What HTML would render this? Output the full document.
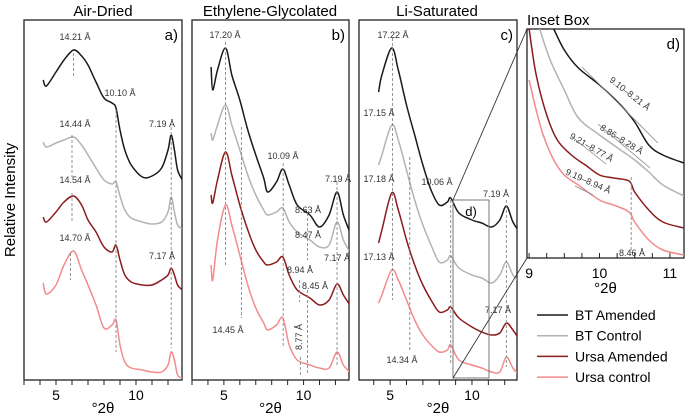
<!DOCTYPE html>
<html><head><meta charset="utf-8">
<style>
body{margin:0;background:#fff;}
svg{display:block;font-family:"Liberation Sans",Arial,sans-serif;}
.lbl{font-size:9px;fill:#333;}
</style></head>
<body>
<svg id="chart" width="685" height="419" viewBox="0 0 685 419" xmlns="http://www.w3.org/2000/svg">
<g id="static">
<text x="103" y="16" font-size="15" text-anchor="middle">Air-Dried</text>
<text x="270" y="16" font-size="15" text-anchor="middle">Ethylene-Glycolated</text>
<text x="437" y="16" font-size="15" text-anchor="middle">Li-Saturated</text>
<text x="527" y="25" font-size="15">Inset Box</text>
<text transform="translate(15,200) rotate(-90)" font-size="15" text-anchor="middle">Relative Intensity</text>
</g>
<g id="panels"></g>
<g id="legend"></g>
</svg>
<script>
// ---------- data ----------
const colors = ["#1a1a1a","#b3b3b3","#8b1c1c","#f28b8b"];
const seriesNames = ["BT Amended","BT Control","Ursa Amended","Ursa control"];

const aX = [4.2,4.4,5,5.5,6.1,6.6,7,7.5,8,8.5,8.75,9,9.3,9.7,10.4,11,11.6,12,12.2,12.4,12.6,12.9];
const aBTAm = [320,314,328,340,350,344,335,318,302,297,292,270,250,235,223,224,232,250,265,250,230,220];
const aBTCo = [258,253,257,260,263,255,245,232,220,216,218,204,190,182,178,176,178,188,203,188,175,171];
const aURAm = [183,178,188,198,204,195,180,168,153,148,155,140,125,118,115,115,120,125,132,125,115,110];
const aURCo = [117,106,115,135,149,130,115,95,72,75,80,55,38,32,30,28,28,35,48,40,25,22];

const bX = [4.2,4.3,4.6,5.1,5.5,6,6.5,7,7.5,7.75,8.3,8.7,9.1,9.6,10.4,11,11.6,12.1,12.5,12.9];
const bBTAm = [333,310,330,352,325,300,270,245,222,208,218,231,215,195,185,173,185,208,185,168];
const bBTCo = [267,260,275,295,275,250,225,205,190,185,188,192,178,168,160,153,155,178,160,148];
const bURAm = [205,197,220,248,225,195,170,150,138,135,138,143,125,110,102,95,100,116,105,95];
const bURCo = [135,120,160,195,175,145,115,92,77,70,75,82,55,40,35,32,32,48,35,28];

const cX = [4.3,4.5,5.1,5.5,6,6.5,7,7.5,8,8.5,8.7,9.2,10,10.6,11.2,11.7,12.1,12.5,12.9];
const cBTAm = [308,325,352,330,295,265,235,210,195,198,202,187,180,177,173,180,194,178,168];
const cBTCo = [235,245,275,260,230,200,175,155,138,140,144,132,125,122,117,125,138,125,118];
const cURAm = [157,170,207,190,160,135,115,100,88,90,93,82,73,68,65,67,77,70,60];
const cURCo = [97,105,130,120,100,80,65,55,48,50,55,40,35,32,28,28,43,32,25];

const dBTAmX = [9.35,9.5,9.7,10,10.3,10.5,10.7,10.9,11.2];
const dBTAm = [271,250,232,215,195,178,155,145,137];
const dBTCoX = [9.15,9.3,9.5,9.7,10,10.3,10.5,10.7,10.9,11.2];
const dBTCo = [271,240,210,182,165,150,140,128,115,104];
const dURAmX = [9.0,9.1,9.25,9.4,9.6,9.8,10,10.2,10.42,10.5,10.7,10.9,11.2];
const dURAm = [271,225,185,160,145,135,125,122,119,108,90,78,72];
const dURCoX = [9.0,9.1,9.2,9.35,9.5,9.7,10,10.2,10.42,10.5,10.7,10.9,11.2];
const dURCo = [220,190,165,140,125,115,100,95,88,78,60,50,45];

const mainTicks = [3,4,5,6,7,8,9,10,11,12];
const mainTickLabels = [5,10];
const insetTicks = [9,9.25,9.5,9.75,10,10.25,10.5,10.75,11];
const insetTickLabels = [9,10,11];

// ---------- helpers ----------
const NS="http://www.w3.org/2000/svg";
function el(tag,attrs,parent,txt){const e=document.createElementNS(NS,tag);for(const k in attrs)e.setAttribute(k,attrs[k]);if(txt!==undefined)e.textContent=txt;parent.appendChild(e);return e;}
function smoothPath(pts){let d="M"+pts[0][0].toFixed(1)+","+pts[0][1].toFixed(1);for(let i=0;i<pts.length-1;i++){const p0=pts[Math.max(0,i-1)],p1=pts[i],p2=pts[i+1],p3=pts[Math.min(pts.length-1,i+2)];const c1=[p1[0]+(p2[0]-p0[0])/6,p1[1]+(p2[1]-p0[1])/6],c2=[p2[0]-(p3[0]-p1[0])/6,p2[1]-(p3[1]-p1[1])/6];d+="C"+c1[0].toFixed(1)+","+c1[1].toFixed(1)+" "+c2[0].toFixed(1)+","+c2[1].toFixed(1)+" "+p2[0].toFixed(1)+","+p2[1].toFixed(1);}return d;}
const root=document.getElementById("panels");

function panel(id,x0,x1,d0,d1,yTop,yBot,yZero,seriesX,series,ticks,tickLabels,tickDir,xLabelY){
  const g=el("g",{},root);
  
  
  const xs=v=>x0+(v-d0)/(d1-d0)*(x1-x0);
  const ys=v=>yZero-v;
  const clip=el("clipPath",{id:"clip-"+id},g);el("rect",{x:x0,y:yTop,width:x1-x0,height:yBot-yTop},clip);
  const fr=el("rect",{x:x0,y:yTop,width:x1-x0,height:yBot-yTop,fill:"none",stroke:"#222","stroke-width":1.3},g);
  
  
  ticks.forEach(t=>{const x=xs(t);const tk=el("line",{x1:x,x2:x,y1:yBot,y2:yBot+tickDir*5,stroke:"#222","stroke-width":1},g);
    
    });
  tickLabels.forEach(t=>{const tl=el("text",{x:xs(t),y:yBot+20,"font-size":14,"text-anchor":"middle"},g,String(t));
    
    });
  const xt=el("text",{x:(x0+x1)/2,y:xLabelY,"font-size":15,"text-anchor":"middle"},g,"°2θ");
  
  
  series.forEach((s,i)=>{const X=Array.isArray(seriesX[0])?seriesX[i]:seriesX;const pts=X.map((v,j)=>[xs(v),ys(s[j])]);
    const p=el("path",{d:smoothPath(pts),fill:"none",stroke:colors[i],"stroke-width":1.5,"clip-path":"url(#clip-"+id+")"},g);
    
    });
  return {g,xs};
}
function dash(g,x,y1,y2){const l=el("line",{x1:x,x2:x,y1:y1,y2:y2,stroke:"#888","stroke-width":0.9,"stroke-dasharray":"3,2"},g);
  
  }
function lab(g,x,y,t,anchor,rot){const a={x:x,y:y,class:"lbl","text-anchor":anchor||"middle"};if(rot)a.transform="rotate("+rot+" "+x+" "+y+")";const e=el("text",a,g,t);
  
  }

// panel a
const A=panel("panel-a-air-dried",24,182,3,12.875,20,380,400,aX,[aBTAm,aBTCo,aURAm,aURCo],mainTicks,mainTickLabels,1,413);
dash(A.g,A.xs(6.1),53,78);dash(A.g,A.xs(6.0),135,177);dash(A.g,A.xs(6.0),193,222);dash(A.g,A.xs(5.9),253,280);
dash(A.g,A.xs(8.75),110,352);dash(A.g,A.xs(12.2),127,348);
lab(A.g,75,40,"14.21 Å");lab(A.g,120,96,"10.10 Å");lab(A.g,75,127,"14.44 Å");lab(A.g,162,127,"7.19 Å");lab(A.g,75,183,"14.54 Å");lab(A.g,75,241,"14.70 Å");lab(A.g,162,259,"7.17 Å");
el("text",{x:178,y:40,"font-size":15,"text-anchor":"end"},A.g,"a)");
// panel b
const B=panel("panel-b-ethylene-glycolated",192,349,3,12.85,20,380,400,bX,[bBTAm,bBTCo,bURAm,bURCo],mainTicks,mainTickLabels,1,413);
dash(B.g,B.xs(5.1),42,265);dash(B.g,B.xs(6.1),127,318);dash(B.g,B.xs(8.72),163,347);dash(B.g,B.xs(10.25),213,260);
dash(B.g,B.xs(10.25),290,373);dash(B.g,B.xs(9.75),280,302);dash(B.g,B.xs(9.8),357,375);dash(B.g,B.xs(12.1),182,367);
lab(B.g,225,38,"17.20 Å");lab(B.g,283,159,"10.09 Å");lab(B.g,338,182,"7.19 Å");lab(B.g,308,213,"8.63 Å");lab(B.g,308,238,"8.47 Å");
lab(B.g,337,261,"7.17 Å");lab(B.g,300,273,"8.94 Å");lab(B.g,315,289,"8.45 Å");lab(B.g,228,333,"14.45 Å");lab(B.g,302,350,"8.77 Å","start",-90);
el("text",{x:345,y:40,"font-size":15,"text-anchor":"end"},B.g,"b)");
// panel c
const C=panel("panel-c-li-saturated",359,517,3.1,12.75,20,380,400,cX,[cBTAm,cBTCo,cURAm,cURCo],mainTicks.filter(t=>t>=4),mainTickLabels,1,413);
dash(C.g,C.xs(5.15),38,300);dash(C.g,C.xs(6.2),157,350);dash(C.g,C.xs(8.7),200,365);dash(C.g,C.xs(12.1),200,367);
lab(C.g,393,38,"17.22 Å");lab(C.g,379,116,"17.15 Å");lab(C.g,379,182,"17.18 Å");lab(C.g,437,185,"10.06 Å");lab(C.g,496,197,"7.19 Å");
lab(C.g,379,260,"17.13 Å");lab(C.g,498,313,"7.17 Å");lab(C.g,402,363,"14.34 Å");
el("text",{x:513,y:40,"font-size":15,"text-anchor":"end"},C.g,"c)");
const box=el("rect",{x:453,y:200,width:36,height:178,fill:"none",stroke:"#777","stroke-width":1},C.g);


el("text",{x:471,y:216,"font-size":13,"text-anchor":"middle"},C.g,"d)");
el("line",{x1:453,y1:200,x2:527,y2:29,stroke:"#333","stroke-width":0.9},root);
el("line",{x1:453,y1:378,x2:527,y2:258,stroke:"#333","stroke-width":0.9},root);
// inset
const D=panel("panel-d-inset",527,684,8.97,11.2,29,258,300,[dBTAmX,dBTCoX,dURAmX,dURCoX],[dBTAm,dBTCo,dURAm,dURCo],insetTicks,insetTickLabels,-1,293);
dash(D.g,D.xs(10.45),177,253);lab(D.g,632,256,"8.46 Å");
el("text",{x:680,y:49,"font-size":15,"text-anchor":"end"},D.g,"d)");
lab(D.g,628,96,"9.10–8.21 Å","middle",38);lab(D.g,620,142,"8.86–8.28 Å","middle",32);
lab(D.g,590,150,"9.21–8.77 Å","middle",30);lab(D.g,587,184,"9.19–8.94 Å","middle",24);
[[582,67,658,143],[598,124,650,168],[571,136,606,164],[575,186,593,195]].forEach(b=>{const br=el("line",{x1:b[0],y1:b[1],x2:b[2],y2:b[3],stroke:"#888","stroke-width":0.8},D.g);
  
  });
// legend
const lg=document.getElementById("legend");
seriesNames.forEach((n,i)=>{const y=315+i*20.7;
  const item=el("g",{},lg);
  
  
  el("line",{x1:537,x2:568,y1:y,y2:y,stroke:colors[i],"stroke-width":1.5},item);
  el("text",{x:575,y:y+5,"font-size":14},item,n);});
</script>
</body></html>
